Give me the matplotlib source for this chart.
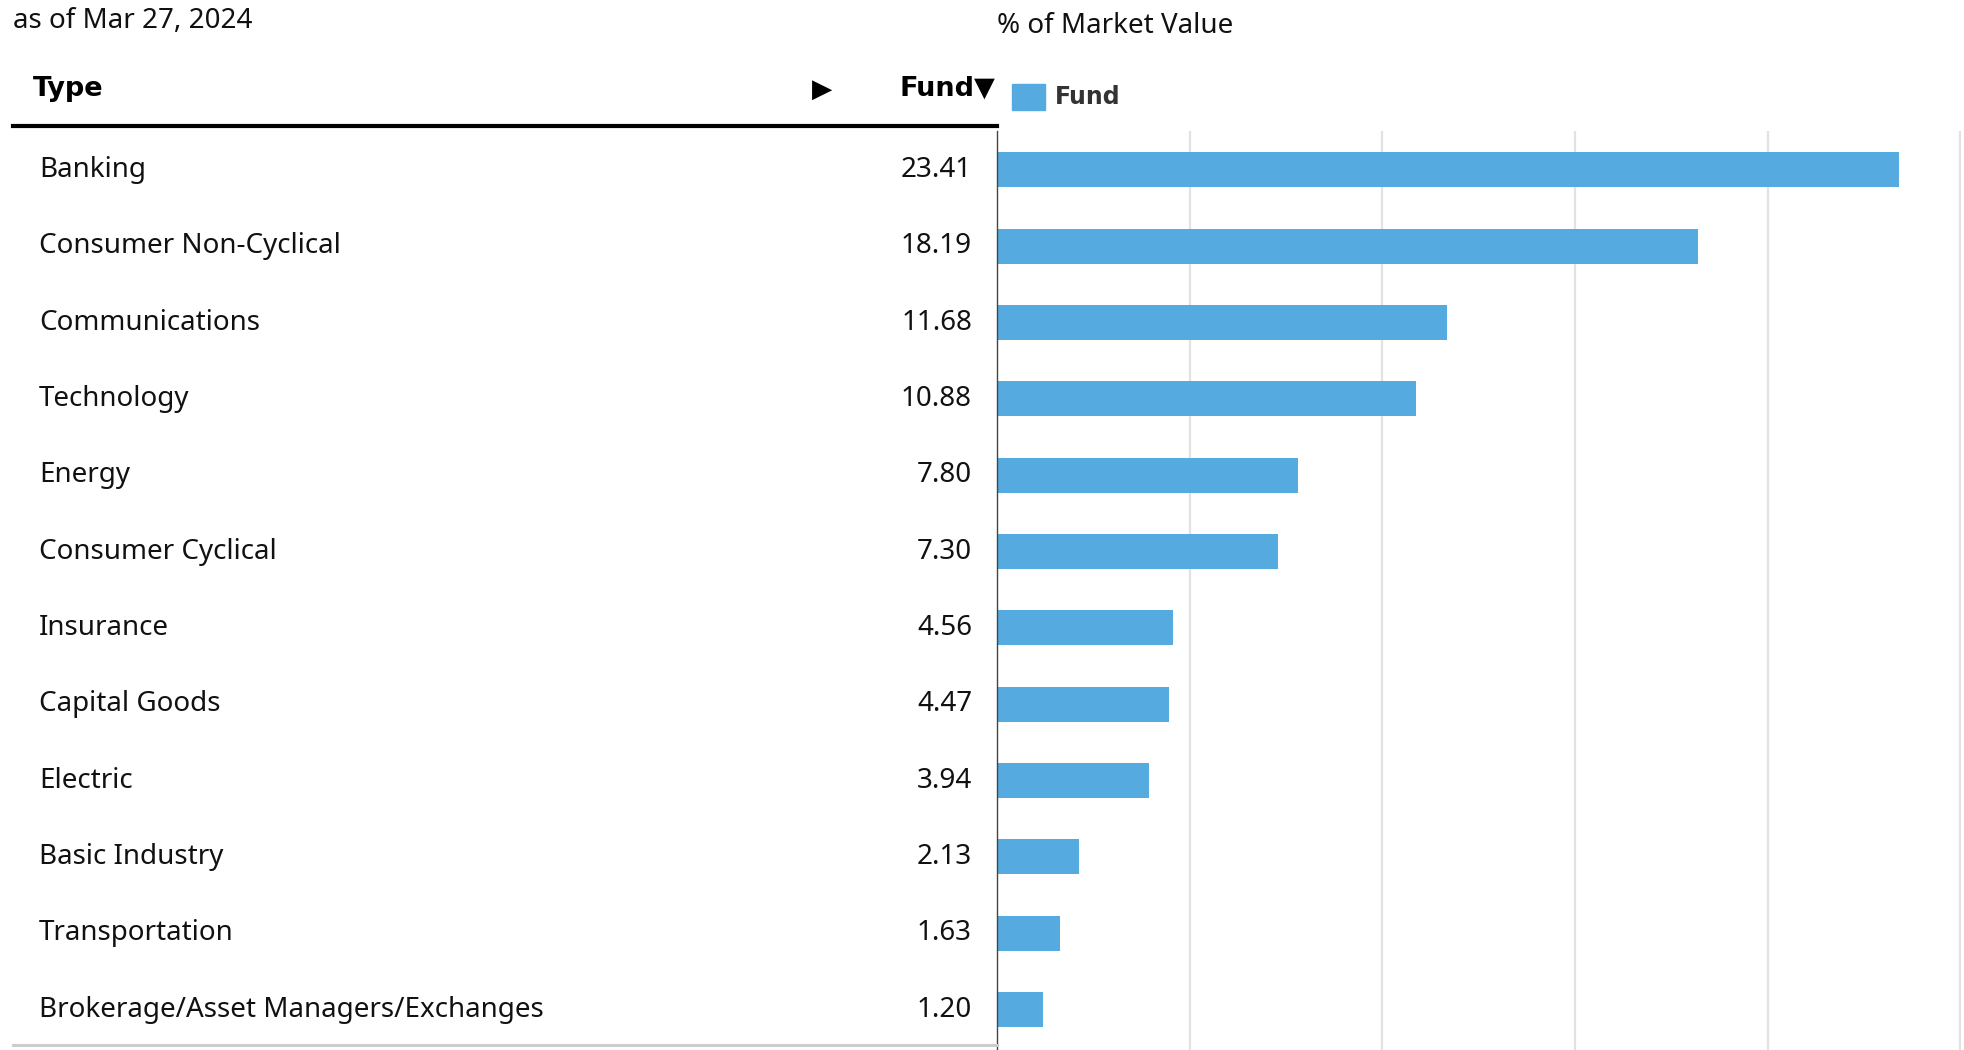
import numpy as np
import matplotlib
matplotlib.use("Agg")
import matplotlib.pyplot as plt
from matplotlib.transforms import blended_transform_factory
from matplotlib.patches import Rectangle

# data
types = ["Banking", "Consumer Non-Cyclical", "Communications", "Technology",
         "Energy", "Consumer Cyclical", "Insurance", "Capital Goods",
         "Electric", "Basic Industry", "Transportation",
         "Brokerage/Asset Managers/Exchanges"]
fund = [23.41, 18.19, 11.68, 10.88, 7.80, 7.30, 4.56, 4.47, 3.94, 2.13, 1.63, 1.20]
grid_ticks = [5, 10, 15, 20, 25]

W, H = 1964, 1050
bar_color = "#55aadf"
fonts = ["Noto Sans", "DejaVu Sans"]
bold_fonts = ["DejaVu Sans"]
plt.rcParams['font.family'] = fonts

fig = plt.figure(figsize=(W / 100, H / 100), dpi=100)

def fx(px):
    return px / W

def fy(py):
    return 1 - py / H

ax = fig.add_axes([fx(997), 0, fx(1961) - fx(997), fy(131)])
rows = np.arange(len(types))
ax.barh(rows, fund, height=0.46, color=bar_color, zorder=3)
ax.set_xlim(0, 25.02)
ax.set_ylim(len(types) - 0.47, -0.51)
ax.set_xticks(grid_ticks)
ax.set_yticks([])
ax.grid(axis="x", color="#e2e2e2", linewidth=1.6, zorder=0)
ax.tick_params(axis="x", length=0, labelbottom=False)
for s in ["top", "right", "bottom"]:
    ax.spines[s].set_visible(False)
ax.spines["left"].set_color("#444444")
ax.spines["left"].set_linewidth(1.0)
ax.spines["left"].set_zorder(4)

# table text, rows placed through the axis data coordinates
fs = 20
trans = blended_transform_factory(fig.transFigure, ax.transData)
for i, (t, v) in enumerate(zip(types, fund)):
    ax.text(fx(39), i, t, transform=trans, ha="left", va="center",
            fontsize=fs, color="#111111", clip_on=False)
    ax.text(fx(972), i, f"{v:.2f}", transform=trans, ha="right", va="center",
            fontsize=fs, color="#111111", clip_on=False)

# headers
fig.text(fx(13), fy(21), "as of Mar 27, 2024", ha="left", va="center",
         fontsize=fs, color="#111111")
fig.text(fx(997), fy(26), "% of Market Value", ha="left", va="center",
         fontsize=fs, color="#111111")
fig.text(fx(33), fy(89), "Type", ha="left", va="center",
         fontsize=19.5, fontweight="bold", color="#000000", family=bold_fonts)
fig.text(fx(822), fy(90), "\u25b6", ha="center", va="center",
         fontsize=19, color="#000000", family=bold_fonts)
fig.text(fx(995), fy(89), "Fund\u25bc", ha="right", va="center",
         fontsize=19.5, fontweight="bold", color="#000000", family=bold_fonts)

# legend
fig.add_artist(Rectangle((fx(1012), fy(110)), fx(1045) - fx(1012), fy(84) - fy(110),
                         transform=fig.transFigure, color=bar_color))
fig.text(fx(1055), fy(97), "Fund", ha="left", va="center",
         fontsize=17, fontweight="bold", color="#333333", family=bold_fonts)

# table rules
fig.add_artist(plt.Line2D([fx(13), fx(997)], [fy(126), fy(126)],
                          color="#000000", linewidth=3, transform=fig.transFigure))
fig.add_artist(plt.Line2D([fx(13), fx(997)], [fy(1045), fy(1045)],
                          color="#cccccc", linewidth=2.2, transform=fig.transFigure))

fig.savefig("out.png", dpi=100)
